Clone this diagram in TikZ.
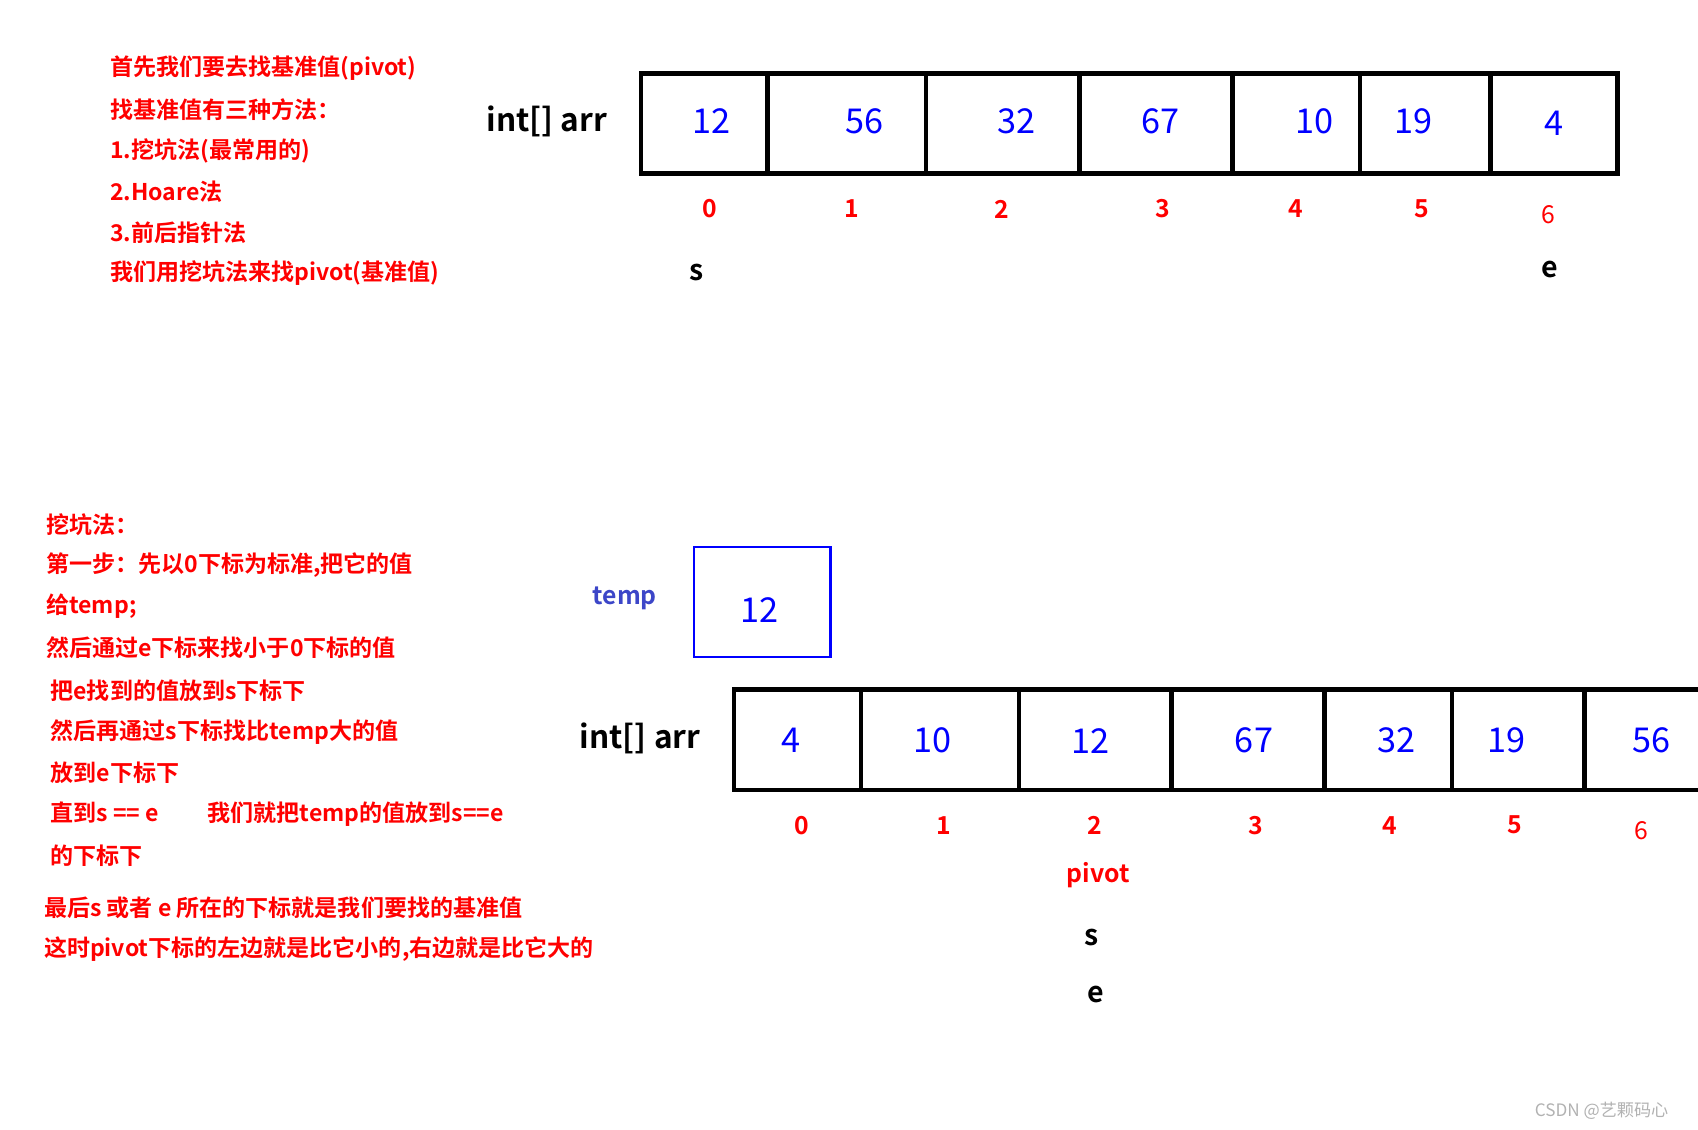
\documentclass[tikz,border=0pt]{standalone}
\usepackage{fontspec}
\setmainfont{Noto Sans CJK SC}
\newfontfamily\cjkbold{Noto Sans CJK SC Bold}
\tikzset{
  note/.style={anchor=west, text=red, font=\cjkbold\fontsize{6.05}{7}\selectfont, inner sep=0pt},
  cell/.style={draw=black, line width=1.2pt, inner sep=0pt, text=blue, font=\fontsize{9}{10}\selectfont},
  idx/.style={text=red, font=\cjkbold\fontsize{6.5}{7}\selectfont, inner sep=0pt},
  idxlight/.style={text=red, font=\fontsize{6.5}{7}\selectfont, inner sep=0pt},
  ptr/.style={font=\cjkbold\fontsize{7.5}{8}\selectfont, inner sep=0pt},
  arrlabel/.style={font=\cjkbold\fontsize{8.3}{9}\selectfont, inner sep=0pt}
}
\begin{document}
\begin{tikzpicture}[x=0.01cm, y=-0.01cm]
\useasboundingbox[fill=white] (0,0) rectangle (1568,1043);

% notes, top
\node (n1) [note] at (101,63) {首先我们要去找基准值(pivot)};
\node (n2) [note] at (101,101) {找基准值有三种方法：};
\node (n3) [note] at (101,139) {1.挖坑法(最常用的)};
\node (n4) [note] at (101,177) {2.Hoare法};
\node (n5) [note] at (101,215) {3.前后指针法};
\node (n6) [note] at (101,252) {我们用挖坑法来找pivot(基准值)};

% top array
\node (arr1) [arrlabel] at (505,112) {int[] arr};
\foreach \l/\r/\v/\c/\i/\ix [count=\k] in {592/709/12/657/0/655, 709/855/56/798/1/787, 855/997/32/939/2/925, 997/1138/67/1072/3/1074, 1138/1256/10/1214/4/1197, 1256/1377/19/1305/5/1313}
{
  \node (t\k) [cell, minimum width={(\r-\l)*0.01cm}, minimum height=0.92cm] at ({(\l+\r)/2},114) {};
  \node (tv\k) [text=blue, font=\fontsize{9}{10}\selectfont] at (\c,112) {\v};
  \node (ti\k) [idx] at (\ix,193) {\i};
}
\node (t7) [cell, minimum width=1.17cm, minimum height=0.92cm] at (1435,114) {4};
\node (ti7) [idxlight] at (1430,198) {6};
\node (ps1) [ptr] at (643,252) {s};
\node (pe1) [ptr] at (1431,249) {e};

% notes, bottom
\node (m1) [note] at (42,485) {挖坑法：};
\node (m2) [note] at (42,522) {第一步：先以0下标为标准,把它的值};
\node (m3) [note] at (42,560) {给temp;};
\node (m4) [note] at (42,598) {然后通过e下标来找小于0下标的值};
\node (m5) [note] at (46,638) {把e找到的值放到s下标下};
\node (m6) [note] at (46,676) {然后再通过s下标找比temp大的值};
\node (m7) [note] at (46,714) {放到e下标下};
\node (m8) [note] at (46,752) {直到s == e\hspace{0.45cm}我们就把temp的值放到s==e};
\node (m9) [note] at (46,790) {的下标下};
\node (m10) [note] at (40,838) {最后s 或者 e 所在的下标就是我们要找的基准值};
\node (m11) [note] at (40,876) {这时pivot下标的左边就是比它小的,右边就是比它大的};

% temp
\node (templ) [text={rgb,255:red,60;green,70;blue,200}, font=\cjkbold\fontsize{6.5}{7}\selectfont] at (577,553) {temp};
\node (temp) [draw=blue, line width=0.6pt, minimum width=1.26cm, minimum height=1.02cm, text=blue, font=\fontsize{9}{10}\selectfont] at (704,556) {};
\node (tempv) [text=blue, font=\fontsize{9}{10}\selectfont] at (701,563) {12};

% bottom array
\node (arr2) [arrlabel] at (591,682) {int[] arr};
\foreach \l/\r/\v/\c/\i/\ix [count=\k] in {678/795/4/730/0/740, 795/941/10/861/1/872, 941/1082/12/1007/2/1011, 1082/1223/67/1158/3/1160, 1223/1341/32/1290/4/1283, 1341/1463/19/1391/5/1399}
{
  \node (b\k) [cell, minimum width={(\r-\l)*0.01cm}, minimum height=0.93cm] at ({(\l+\r)/2},683) {};
  \node (bv\k) [text=blue, font=\fontsize{9}{10}\selectfont] at (\c,684) {\v};
  \node (bi\k) [idx] at (\ix,762) {\i};
}
\node (b7) [cell, minimum width=1.4cm, minimum height=0.93cm] at (1533,683) {};
\node (bv7) [text=blue, font=\fontsize{9}{10}\selectfont] at (1525,684) {56};
\node (bi7) [idxlight] at (1516,767) {6};
\node (piv) [idx] at (1014,808) {pivot};
\node (ps2) [ptr] at (1008,866) {s};
\node (pe2) [ptr] at (1012,918) {e};

\node (mark) [text=gray!60, font=\fontsize{4.5}{5}\selectfont, anchor=east] at (1553,1026) {CSDN @艺颗码心};
\end{tikzpicture}
\end{document}
